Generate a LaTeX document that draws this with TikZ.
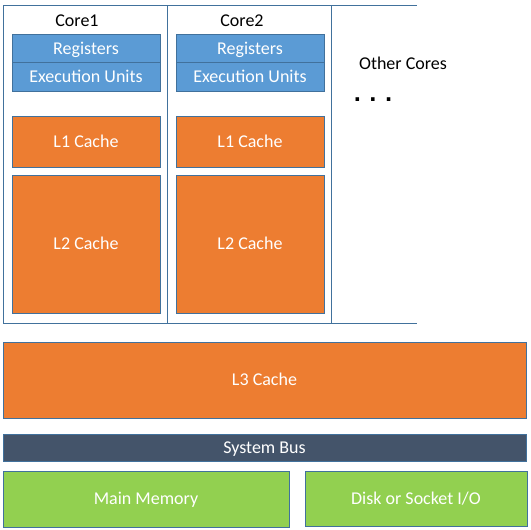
\documentclass[tikz,border=0pt]{standalone}
\usepackage{fontspec}
\setmainfont{Carlito}
\newfontfamily\dotfont{DejaVu Sans}
\usetikzlibrary{positioning}

\definecolor{boxline}{HTML}{41719C}
\definecolor{unitblue}{HTML}{5B9BD5}
\definecolor{cacheorange}{HTML}{ED7D31}
\definecolor{busslate}{HTML}{44546A}
\definecolor{memgreen}{HTML}{92D050}

\begin{document}
\begin{tikzpicture}[x=1pt,y=-1pt,node distance=0pt,line width=0.8pt,
                    every node/.style={font=\fontsize{18}{20}\selectfont,inner sep=0pt,outer sep=0pt,
                                       text height=11.6pt,text depth=0pt},
                    core frame/.style={draw=boxline,anchor=north west,minimum width=164pt,minimum height=318pt},
                    unit box/.style={draw=boxline,fill=unitblue,text=white,minimum width=148pt,minimum height=28.5pt},
                    cache box/.style={draw=boxline,fill=cacheorange,text=white,anchor=north west},
                    mem box/.style={draw=boxline,fill=memgreen,text=white,anchor=north west}]

  \useasboundingbox (0,0) rectangle (531,530);

  % cores
  \node[core frame] (core1) at (3,5) {};
  \node[core frame] (core2) at (167,5) {};
  \coordinate (topend) at (417,5);
  \coordinate (botend) at (417,323);
  \draw[boxline] (core2.north east) -- (topend);
  \draw[boxline] (core2.south east) -- (botend);

  \node (name1) at (77,20.5) {Core1};
  \node (name2) at (242,20.5) {Core2};

  \node[unit box,anchor=north west] (reg1) at (12,34) {Registers};
  \node[unit box] (exe1) [below=0pt of reg1] {Execution Units};
  \node[unit box,anchor=north west] (reg2) at (176,34) {Registers};
  \node[unit box] (exe2) [below=0pt of reg2] {Execution Units};

  \node[cache box,minimum width=148pt,minimum height=51pt] (l1a) at (12,116) {L1 Cache};
  \node[cache box,minimum width=148pt,minimum height=51pt] (l1b) at (176,116) {L1 Cache};
  \node[cache box,minimum width=148pt,minimum height=138pt] (l2a) at (12,175) {L2 Cache};
  \node[cache box,minimum width=148pt,minimum height=138pt] (l2b) at (176,175) {L2 Cache};

  \node (others) at (403,64) {Other Cores};
  \node[font=\fontsize{20}{22}\selectfont\dotfont\bfseries,anchor=base] (dots) at (373,101) {.\hspace{8pt}.\hspace{8pt}.};

  % shared parts
  \node[cache box,minimum width=523pt,minimum height=76pt] (l3) at (3,342) {L3 Cache};
  \node[draw=boxline,fill=busslate,text=white,anchor=north west,minimum width=523pt,minimum height=27pt] (bus) at (3,434) {System Bus};
  \node[mem box,minimum width=286pt,minimum height=56pt] (mem) at (3,471) {Main Memory};
  \node[mem box,minimum width=222pt,minimum height=55pt] (io) at (305,471) {Disk or Socket I/O};
\end{tikzpicture}
\end{document}
